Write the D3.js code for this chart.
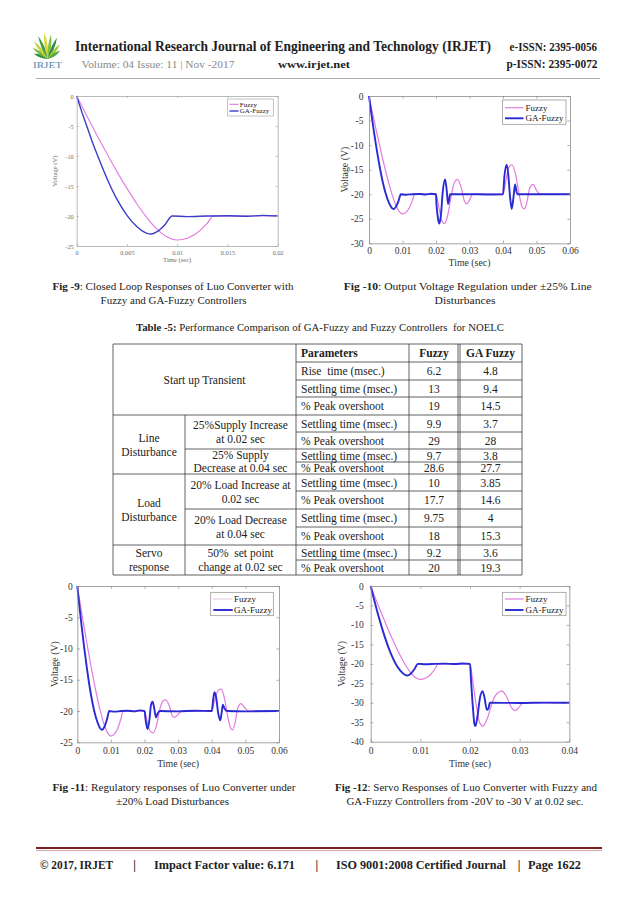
<!DOCTYPE html>
<html>
<head>
<meta charset="utf-8">
<script src="https://cdn.jsdelivr.net/npm/d3@7"></script>
<style>
  body { margin: 0; background: #fff; overflow: hidden; }
  svg { display: block; }
</style>
</head>
<body>
<svg id="page"></svg>
<script>
// ---------- data ----------
// start-up transient, [time (s), voltage (V)]
const startFuzzy = [[0, 0], [0.001, -3.3], [0.002, -6.5], [0.003, -9.6], [0.004, -12.6], [0.005, -15.4],
  [0.006, -18.0], [0.007, -20.3], [0.008, -22.2], [0.009, -23.5], [0.010, -24.0], [0.011, -23.7],
  [0.012, -22.8], [0.013, -21.2], [0.0136, -20.0]];
const startGA = [[0, 0], [0.0005, -2.6], [0.001, -5.0], [0.0015, -7.4], [0.002, -9.6], [0.003, -13.7],
  [0.004, -17.2], [0.005, -19.9], [0.006, -21.8], [0.007, -22.9], [0.0074, -23.0], [0.008, -22.6],
  [0.0088, -21.4], [0.0095, -20.0]];
const fuzzyHold20 = [[0.015, -20], [0.02, -20]];
const gaHold20 = [[0.011, -20.1], [0.013, -20.0], [0.015, -19.95], [0.017, -20.05], [0.0185, -19.9], [0.02, -20.0]];

// fig 10: +-25% line disturbance at 0.02 s and 0.04 s
const lineFuzzy = [[0.0208, -22.5], [0.0217, -25.3], [0.0225, -26], [0.0235, -24.3], [0.0245, -20.5],
  [0.0255, -17.6], [0.0264, -17], [0.0275, -18.6], [0.0285, -21.4], [0.0292, -22], [0.030, -21.2],
  [0.031, -20], [0.04, -20], [0.0408, -17.5], [0.0417, -14.6], [0.0426, -14], [0.0437, -15.8],
  [0.0448, -20], [0.0457, -22.6], [0.0463, -23], [0.047, -22], [0.048, -18.7], [0.049, -18],
  [0.050, -19.2], [0.051, -20], [0.06, -20]];
const lineGA = [[0.0201, -21.5], [0.0205, -24.5], [0.021, -26], [0.0215, -24], [0.022, -19.6],
  [0.0227, -17], [0.0232, -19.2], [0.0236, -22], [0.0239, -21.2], [0.0242, -20], [0.03, -20],
  [0.035, -20.05], [0.04, -20], [0.0404, -16.5], [0.0411, -14], [0.0416, -16.2], [0.0421, -20.5],
  [0.0426, -23], [0.0431, -20.8], [0.0436, -18], [0.044, -19.4], [0.0443, -20], [0.05, -20], [0.06, -20]];

// fig 11: +-20% load disturbance
const loadFuzzy = [[0.0208, -21.8], [0.0217, -23.2], [0.0226, -23.5], [0.0236, -22.2], [0.0246, -19.6],
  [0.0255, -18.4], [0.0263, -18.2], [0.0274, -19.2], [0.0283, -20.8], [0.029, -21], [0.0299, -20.6],
  [0.031, -20], [0.04, -20], [0.0409, -18.2], [0.0419, -16.7], [0.0428, -16.5], [0.0438, -18],
  [0.0448, -21], [0.0456, -22.7], [0.0462, -23], [0.0469, -22], [0.0478, -19.4], [0.0487, -18.8],
  [0.0497, -19.4], [0.051, -20], [0.06, -20]];
const loadGA = [[0.0203, -21.3], [0.0209, -22.9], [0.0215, -21.2], [0.0219, -19.1], [0.0224, -18.5],
  [0.0229, -19.6], [0.0234, -21], [0.0239, -20.4], [0.0245, -20], [0.03, -20.05], [0.035, -19.95],
  [0.04, -20], [0.0404, -18.2], [0.0408, -17], [0.0413, -17.8], [0.0419, -20.3], [0.0425, -21.5],
  [0.0429, -20.4], [0.0433, -19], [0.0438, -19.6], [0.0445, -20], [0.05, -20.05], [0.06, -20]];

// fig 12: set point -20 V -> -30 V at 0.02 s
const servoFuzzy = [[0.0205, -24], [0.0213, -31], [0.022, -35.3], [0.0226, -36], [0.0235, -34],
  [0.0246, -29.5], [0.0256, -27.4], [0.0264, -27], [0.0274, -28.5], [0.0284, -31.3], [0.029, -32],
  [0.0298, -31.3], [0.0307, -30], [0.04, -30]];
const servoGA = [[0.0202, -24], [0.0206, -31.5], [0.0209, -35.5], [0.0211, -36], [0.0215, -33.5],
  [0.022, -28.8], [0.0225, -27], [0.0229, -28.5], [0.0234, -31.8], [0.0237, -31.5], [0.024, -30],
  [0.03, -30.05], [0.035, -29.95], [0.04, -30]];

const ticks9X = [0, 0.005, 0.01, 0.015, 0.02];
const ticks60X = [0, 0.01, 0.02, 0.03, 0.04, 0.05, 0.06];
const ticks40X = [0, 0.01, 0.02, 0.03, 0.04];
const ticks25Y = [-25, -20, -15, -10, -5, 0];
const ticks30Y = [-30, -25, -20, -15, -10, -5, 0];
const ticks40Y = [-40, -35, -30, -25, -20, -15, -10, -5, 0];
const legendNames = ['Fuzzy', 'GA-Fuzzy'];

// table -5
const tableHead = ['Parameters', 'Fuzzy', 'GA Fuzzy'];
const tableParams = ['Rise  time (msec.)', 'Settling time (msec.)', '% Peak overshoot',
  'Settling time (msec.)', '% Peak overshoot', 'Settling time (msec.)', '% Peak overshoot',
  'Settling time (msec.)', '% Peak overshoot', 'Settling time (msec.)', '% Peak overshoot',
  'Settling time (msec.)', '% Peak overshoot'];
const tableFuzzy = ['6.2', '13', '19', '9.9', '29', '9.7', '28.6', '10', '17.7', '9.75', '18', '9.2', '20'];
const tableGA = ['4.8', '9.4', '14.5', '3.7', '28', '3.8', '27.7', '3.85', '14.6', '4', '15.3', '3.6', '19.3'];
const tableGroups = [['Start up Transient'], ['Line', 'Disturbance'], ['Load', 'Disturbance'], ['Servo', 'response']];
const tableCases = [['25%Supply Increase', 'at 0.02 sec'], ['25% Supply', 'Decrease at 0.04 sec'],
  ['20% Load Increase at', '0.02 sec'], ['20% Load Decrease', 'at 0.04 sec'], ['50%  set point', 'change at 0.02 sec']];

// ---------- drawing ----------
const SERIF = '"Liberation Serif", "Times New Roman", serif';
const fuzzyColor = '#e27ae2';
const gaColor = '#2a2ad2';

const svg = d3.select('#page').attr('width', 638).attr('height', 902);

function txt(x, y, s, o = {}) {
  const t = svg.append('text')
    .attr('x', x).attr('y', y)
    .attr('font-family', o.family || SERIF)
    .attr('font-size', o.size || 11)
    .attr('font-weight', o.bold ? 'bold' : 'normal')
    .attr('fill', o.color || '#222')
    .attr('text-anchor', o.anchor || 'start')
    .style('white-space', 'pre');
  if (o.dy) t.attr('dy', o.dy);
  if (o.len) t.attr('textLength', o.len).attr('lengthAdjust', 'spacingAndGlyphs');
  if (Array.isArray(s)) {
    s.forEach(p => t.append('tspan').attr('font-weight', p.bold ? 'bold' : 'normal').text(p.t));
  } else t.text(s);
  return t;
}

// header
const leafColors = ['#2f8f46', '#74b83f', '#c3d23a', '#3f9f4e', '#dcd43c', '#86c03d', '#2f8f46', '#a6c93a', '#54a84a'];
const leafAngles = [-160, -144, -128, -113, -98, -83, -67, -51, -35];
const leafLens = [15, 19, 23, 25, 27, 25, 23, 19, 15];
leafAngles.forEach((a, i) => {
  const L = leafLens[i], w = 3;
  svg.append('path')
    .attr('d', `M0,0 Q${L / 2},${-w} ${L},0 Q${L / 2},${w} 0,0Z`)
    .attr('fill', leafColors[i])
    .attr('transform', `translate(48,59) rotate(${a})`);
});
txt(47.5, 67.5, 'IRJET', { size: 9, color: '#4f86a8', anchor: 'middle', len: 29 });

txt(75, 51, 'International Research Journal of Engineering and Technology (IRJET)', { size: 14, bold: true, len: 416, color: '#1e1e1e' });
txt(509.6, 51, 'e-ISSN: 2395-0056', { size: 11.5, bold: true, len: 87.4, color: '#1e1e1e' });
txt(81.4, 67.5, 'Volume: 04 Issue: 11 | Nov -2017', { size: 11, len: 153, color: '#8a8a8a' });
txt(278, 67.5, 'www.irjet.net', { size: 11, bold: true, len: 72, color: '#1e1e1e' });
txt(506.5, 67.5, 'p-ISSN: 2395-0072', { size: 11.5, bold: true, len: 91, color: '#1e1e1e' });
svg.append('line').attr('x1', 36).attr('x2', 600).attr('y1', 78.5).attr('y2', 78.5)
  .attr('stroke', '#9a9a9a').attr('stroke-width', 0.8);

// plots
function drawFig(f) {
  const x = d3.scaleLinear().domain(f.xDomain).range([f.left, f.right]);
  const y = d3.scaleLinear().domain(f.yDomain).range([f.bottom, f.top]);
  const g = svg.append('g');
  const line = d3.line().x(d => x(d[0])).y(d => y(d[1])).curve(d3.curveMonotoneX);

  g.append('path').datum(f.fuzzy).attr('fill', 'none').attr('stroke', fuzzyColor)
    .attr('stroke-width', f.fuzzyWidth).attr('d', line);
  g.append('path').datum(f.ga).attr('fill', 'none').attr('stroke', f.gaColor || gaColor)
    .attr('stroke-width', f.gaWidth).attr('d', line);

  const fmt = d => String(d);
  const axes = [
    [d3.axisBottom(x).tickValues(f.xTicks).tickFormat(fmt).tickPadding(f.xPad), `translate(0,${f.bottom})`],
    [d3.axisTop(x).tickValues(f.xTicks).tickFormat(''), `translate(0,${f.top})`],
    [d3.axisLeft(y).tickValues(f.yTicks).tickFormat(fmt).tickPadding(f.yPad), `translate(${f.left},0)`],
    [d3.axisRight(y).tickValues(f.yTicks).tickFormat(''), `translate(${f.right},0)`]
  ];
  axes.forEach(([ax, tr]) => {
    const a = g.append('g').attr('transform', tr)
      .call(ax.tickSize(-f.tick).tickSizeOuter(0));
    a.attr('color', f.boxColor).attr('font-family', SERIF).attr('font-size', f.font);
    a.select('.domain').attr('stroke-width', 0.8);
    a.selectAll('.tick line').attr('stroke-width', 0.7);
    a.selectAll('.tick text').attr('fill', f.textColor);
  });

  txt(0, 0, 'Voltage (V)', { size: f.labelFont, color: f.textColor, anchor: 'middle', dy: '0.35em' })
    .attr('transform', `translate(${f.voltX},${(f.top + f.bottom) / 2}) rotate(-90)`);
  txt((f.left + f.right) / 2, f.timeY, 'Time (sec)', { size: f.labelFont, color: f.textColor, anchor: 'middle', dy: '0.35em' });

  const L = f.legend;
  g.append('rect').attr('x', L.x0).attr('y', L.y0).attr('width', L.x1 - L.x0).attr('height', L.y1 - L.y0)
    .attr('fill', '#fff').attr('stroke', f.boxColor).attr('stroke-width', 0.7);
  [fuzzyColor, f.gaColor || gaColor].forEach((c, i) => {
    const s = g.append('line').attr('x1', L.sx0).attr('x2', L.sx1).attr('y1', L.ty[i]).attr('y2', L.ty[i])
      .attr('stroke', c).attr('stroke-width', i ? f.gaWidth : f.fuzzyWidth);
    if (i === 0 && L.dash) s.attr('stroke-dasharray', L.dash);
    txt(L.tx, L.ty[i], legendNames[i], { size: L.font, color: '#222', dy: '0.35em' });
  });
}

drawFig({
  left: 76.7, right: 277.7, top: 96, bottom: 246,
  xDomain: [0, 0.02], yDomain: [-25, 0], xTicks: ticks9X, yTicks: ticks25Y,
  fuzzy: startFuzzy.concat(fuzzyHold20), ga: startGA.concat(gaHold20),
  fuzzyWidth: 1.1, gaWidth: 1.4, gaColor: '#3c3cc8',
  font: 6.3, labelFont: 6.6, textColor: '#6e6e6e', boxColor: '#a8a8a8', tick: 2,
  xPad: 5, yPad: 3, timeY: 259.3, voltX: 55,
  legend: { x0: 227.7, x1: 273.3, y0: 99, y1: 116, sx0: 229.5, sx1: 238.5, tx: 239.8, ty: [104.3, 111], font: 7 }
});
drawFig({
  left: 369, right: 570, top: 96, bottom: 243.3,
  xDomain: [0, 0.06], yDomain: [-30, 0], xTicks: ticks60X, yTicks: ticks30Y,
  fuzzy: startFuzzy.concat(fuzzyHold20, lineFuzzy), ga: startGA.concat(gaHold20, lineGA),
  fuzzyWidth: 1.2, gaWidth: 1.9,
  font: 9.5, labelFont: 9.8, textColor: '#333', boxColor: '#8c8c8c', tick: 2.7,
  xPad: 4, yPad: 5.5, timeY: 263, voltX: 345,
  legend: { x0: 502.5, x1: 566, y0: 100, y1: 124.3, sx0: 505, sx1: 523.5, tx: 525.5, ty: [107.7, 118.3], font: 9 }
});
drawFig({
  left: 77.3, right: 279, top: 586, bottom: 742.3,
  xDomain: [0, 0.06], yDomain: [-25, 0], xTicks: ticks60X, yTicks: ticks25Y,
  fuzzy: startFuzzy.concat(fuzzyHold20, loadFuzzy), ga: startGA.concat(gaHold20, loadGA),
  fuzzyWidth: 1.2, gaWidth: 1.9,
  font: 9.5, labelFont: 9.8, textColor: '#333', boxColor: '#8c8c8c', tick: 2.7,
  xPad: 5, yPad: 4.6, timeY: 763.3, voltX: 55,
  legend: { x0: 210.7, x1: 273.3, y0: 592.3, y1: 615.7, sx0: 213.3, sx1: 232.7, tx: 234, ty: [599, 610], font: 9, dash: '1,1' }
});
drawFig({
  left: 370.7, right: 569.3, top: 586, bottom: 741.7,
  xDomain: [0, 0.04], yDomain: [-40, 0], xTicks: ticks40X, yTicks: ticks40Y,
  fuzzy: startFuzzy.concat(fuzzyHold20, servoFuzzy), ga: startGA.concat(gaHold20, servoGA),
  fuzzyWidth: 1.2, gaWidth: 1.9,
  font: 9.5, labelFont: 9.8, textColor: '#333', boxColor: '#8c8c8c', tick: 2.7,
  xPad: 5.7, yPad: 7, timeY: 763.3, voltX: 341.7,
  legend: { x0: 502.5, x1: 566, y0: 592.3, y1: 615.7, sx0: 505, sx1: 523.5, tx: 525.5, ty: [599, 610], font: 9 }
});

// captions
const cap = { size: 10.5, color: '#222', anchor: 'middle' };
txt(173, 290, [{ t: 'Fig -9', bold: true }, { t: ': Closed Loop Responses of Luo Converter with' }], { ...cap, len: 241 });
txt(173.6, 303.5, 'Fuzzy and GA-Fuzzy Controllers', { ...cap, len: 146 });
txt(467.7, 290, [{ t: 'Fig -10', bold: true }, { t: ': Output Voltage Regulation under \u00b125% Line' }], { ...cap, len: 248 });
txt(465, 303.5, 'Disturbances', { ...cap, len: 61 });
txt(320, 331, [{ t: 'Table -5:', bold: true }, { t: ' Performance Comparison of GA-Fuzzy and Fuzzy Controllers  for NOELC' }], { ...cap, len: 368 });
txt(174, 790.5, [{ t: 'Fig -11', bold: true }, { t: ': Regulatory responses of Luo Converter under' }], { ...cap, len: 243 });
txt(172.6, 804.5, '\u00b120% Load Disturbances', { ...cap, len: 113 });
txt(466, 790.5, [{ t: 'Fig -12', bold: true }, { t: ': Servo Responses of Luo Converter with Fuzzy and' }], { ...cap, len: 262 });
txt(465, 804.5, 'GA-Fuzzy Controllers from -20V to -30 V at 0.02 sec.', { ...cap, len: 237 });

// table
const cols = [113, 185, 296, 409, 459, 522];
const rows = [344, 362, 380, 397, 415, 432, 449, 462, 474, 491, 509, 527, 545, 560, 575];
const rowStart = [0, 2, 2, 2, 0, 2, 1, 2, 0, 2, 1, 2, 0, 2, 0]; // column index each rule starts at
const tl = svg.append('g').attr('stroke', '#3a3a3a').attr('stroke-width', 0.8);
rows.forEach((ry, i) => tl.append('line').attr('x1', cols[rowStart[i]]).attr('x2', cols[5]).attr('y1', ry).attr('y2', ry));
[[cols[0], rows[0]], [cols[1], rows[4]], [cols[2], rows[0]], [cols[3], rows[0]], [cols[4] - 1, rows[0]], [cols[4] + 1, rows[0]], [cols[5], rows[0]]]
  .forEach(([vx, y0]) => tl.append('line').attr('x1', vx).attr('x2', vx).attr('y1', y0).attr('y2', rows[14]));

const tfont = { size: 11.5, color: '#222', dy: '0.35em' };
const mid = (a, b) => (a + b) / 2;
txt(cols[2] + 5, mid(rows[0], rows[1]), tableHead[0], { ...tfont, bold: true });
txt(mid(cols[3], cols[4]), mid(rows[0], rows[1]), tableHead[1], { ...tfont, bold: true, anchor: 'middle' });
txt(mid(cols[4], cols[5]), mid(rows[0], rows[1]), tableHead[2], { ...tfont, bold: true, anchor: 'middle' });
tableParams.forEach((p, i) => {
  const cy = mid(rows[i + 1], rows[i + 2]);
  txt(cols[2] + 5, cy, p, tfont);
  txt(mid(cols[3], cols[4]), cy, tableFuzzy[i], { ...tfont, anchor: 'middle' });
  txt(mid(cols[4], cols[5]), cy, tableGA[i], { ...tfont, anchor: 'middle' });
});
function multi(lines, cx, r0, r1, gap) {
  const cy = mid(rows[r0], rows[r1]);
  lines.forEach((l, k) => txt(cx, cy + (k - (lines.length - 1) / 2) * gap, l, { ...tfont, anchor: 'middle' }));
}
multi(tableGroups[0], mid(cols[0], cols[2]), 0, 4, 14);
multi(tableGroups[1], mid(cols[0], cols[1]), 4, 8, 14);
multi(tableGroups[2], mid(cols[0], cols[1]), 8, 12, 14);
multi(tableGroups[3], mid(cols[0], cols[1]), 12, 14, 14);
const caseRows = [[4, 6], [6, 8], [8, 10], [10, 12], [12, 14]];
tableCases.forEach((c, i) => multi(c, mid(cols[1], cols[2]), caseRows[i][0], caseRows[i][1], i === 1 ? 12.5 : 14));

// footer
svg.append('line').attr('x1', 36).attr('x2', 602).attr('y1', 848).attr('y2', 848)
  .attr('stroke', '#7d1f1f').attr('stroke-width', 1.8);
svg.append('line').attr('x1', 36).attr('x2', 602).attr('y1', 850.6).attr('y2', 850.6)
  .attr('stroke', '#b98080').attr('stroke-width', 0.7);
const ft = { size: 12, bold: true, color: '#222', dy: '0.35em' };
txt(40, 865, '\u00a9 2017, IRJET', { ...ft, len: 73 });
txt(134.6, 865, '|', { ...ft, anchor: 'middle' });
txt(154, 865, 'Impact Factor value: 6.171', { ...ft, len: 141 });
txt(316.8, 865, '|', { ...ft, anchor: 'middle' });
txt(336, 865, 'ISO 9001:2008 Certified Journal', { ...ft, len: 170 });
txt(519, 865, '|', { ...ft, anchor: 'middle' });
txt(528, 865, 'Page 1622', { ...ft, len: 53 });
</script>
</body>
</html>
